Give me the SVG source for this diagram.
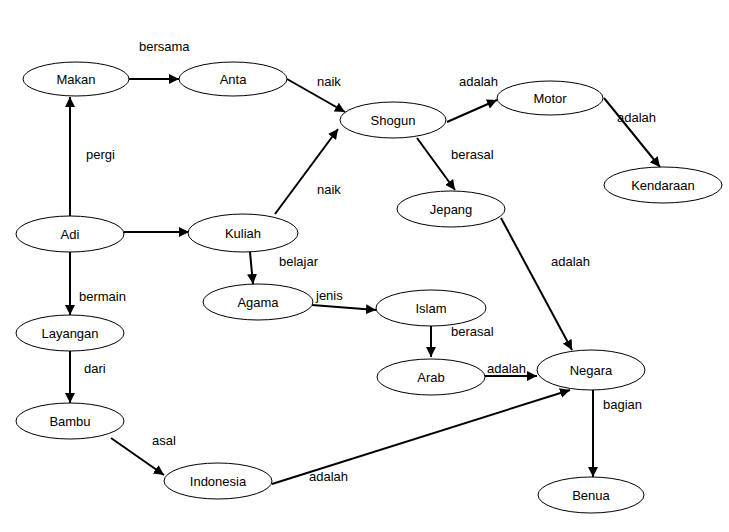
<svg xmlns="http://www.w3.org/2000/svg" width="729" height="532" viewBox="0 0 729 532">
<style>
ellipse{fill:#fff;stroke:#000;stroke-width:1}
text{font-family:"Liberation Sans",Arial,sans-serif;font-size:13px;fill:#000}
.n{text-anchor:middle}
line{stroke:#000;stroke-width:2;marker-end:url(#a)}
</style>
<defs><marker id="a" viewBox="0 0 10 10" refX="10" refY="5" markerWidth="5" markerHeight="5" orient="auto" markerUnits="strokeWidth"><path d="M0,0L10,5L0,10z" fill="#000"/></marker></defs>
<rect width="729" height="532" fill="#fff"/>
<g id="connectors">
<line x1="129" y1="79" x2="179" y2="79"/><text x="139" y="51">bersama</text>
<line x1="287" y1="79" x2="345" y2="112"/><text x="317" y="86">naik</text>
<line x1="447" y1="122" x2="497" y2="100"/><text x="459" y="86">adalah</text>
<line x1="604" y1="98" x2="660" y2="167"/><text x="617" y="122">adalah</text>
<line x1="417" y1="138" x2="455" y2="190"/><text x="451" y="159">berasal</text>
<line x1="501" y1="218" x2="572" y2="350"/><text x="551" y="266">adalah</text>
<line x1="70" y1="216" x2="70" y2="97"/><text x="86" y="159">pergi</text>
<line x1="124" y1="232" x2="189" y2="232"/>
<line x1="275" y1="214" x2="338" y2="129"/><text x="317" y="194">naik</text>
<line x1="250" y1="252" x2="253" y2="284"/><text x="279" y="266">belajar</text>
<line x1="312" y1="305" x2="376" y2="310"/><text x="316" y="300">jenis</text>
<line x1="431" y1="326" x2="431" y2="357"/><text x="451" y="336">berasal</text>
<line x1="484" y1="376" x2="537" y2="376"/><text x="487" y="373">adalah</text>
<line x1="70" y1="252" x2="70" y2="315"/><text x="79" y="301">bermain</text>
<line x1="70" y1="351" x2="70" y2="403"/><text x="84" y="373">dari</text>
<line x1="111" y1="438" x2="164" y2="475"/><text x="152" y="445">asal</text>
<line x1="272" y1="484" x2="570" y2="390"/><text x="309" y="481">adalah</text>
<line x1="593" y1="390" x2="593" y2="477"/><text x="603" y="409">bagian</text>
</g>
<g id="Makan"><ellipse cx="76" cy="79" rx="53" ry="17"/><text class="n" x="76" y="84">Makan</text></g>
<g id="Anta"><ellipse cx="233" cy="79" rx="54" ry="17"/><text class="n" x="233" y="84">Anta</text></g>
<g id="Shogun"><ellipse cx="393" cy="120" rx="53" ry="18"/><text class="n" x="393" y="125">Shogun</text></g>
<g id="Motor"><ellipse cx="550" cy="98" rx="53" ry="17"/><text class="n" x="550" y="103">Motor</text></g>
<g id="Kendaraan"><ellipse cx="663" cy="185" rx="59" ry="18"/><text class="n" x="663" y="190">Kendaraan</text></g>
<g id="Jepang"><ellipse cx="451" cy="209" rx="54" ry="18"/><text class="n" x="451" y="214">Jepang</text></g>
<g id="Adi"><ellipse cx="70" cy="234" rx="54" ry="18"/><text class="n" x="70" y="239">Adi</text></g>
<g id="Kuliah"><ellipse cx="243" cy="233" rx="55" ry="19"/><text class="n" x="243" y="238">Kuliah</text></g>
<g id="Agama"><ellipse cx="258" cy="302" rx="55" ry="18"/><text class="n" x="258" y="307">Agama</text></g>
<g id="Islam"><ellipse cx="431" cy="308" rx="55" ry="18"/><text class="n" x="431" y="313">Islam</text></g>
<g id="Arab"><ellipse cx="431" cy="377" rx="54" ry="18"/><text class="n" x="431" y="382">Arab</text></g>
<g id="Negara"><ellipse cx="591" cy="370" rx="54" ry="20"/><text class="n" x="591" y="375">Negara</text></g>
<g id="Layangan"><ellipse cx="70" cy="333" rx="54" ry="18"/><text class="n" x="70" y="338">Layangan</text></g>
<g id="Bambu"><ellipse cx="70" cy="421" rx="54" ry="18"/><text class="n" x="70" y="426">Bambu</text></g>
<g id="Indonesia"><ellipse cx="218" cy="481" rx="54" ry="18"/><text class="n" x="218" y="486">Indonesia</text></g>
<g id="Benua"><ellipse cx="591" cy="495" rx="53" ry="18"/><text class="n" x="591" y="500">Benua</text></g>
</svg>
